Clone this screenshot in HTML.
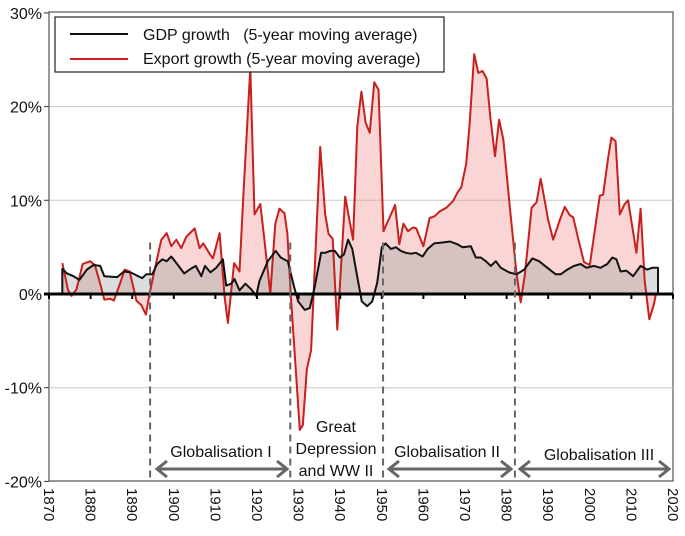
<!DOCTYPE html>
<html><head><meta charset="utf-8"><style>
body{margin:0;background:#fff}
svg text{font-family:"Liberation Sans",Arial,sans-serif;fill:#111}
</style></head><body>
<svg id="c" width="685" height="531"></svg>
<script>
const expYears=[1873.2,1874.6,1875.4,1876.6,1878.1,1879.9,1881,1882.3,1883.3,1884.7,1885.6,1886.9,1888.2,1889.4,1891,1892.2,1893.3,1894.2,1895.4,1897,1898.3,1899.4,1900.6,1901.8,1903,1905,1906.2,1907.1,1908.6,1909.4,1911,1912.2,1913,1914.5,1915.8,1916.7,1918.4,1919.4,1920.8,1921.8,1923.2,1924.4,1925.4,1926.6,1927.3,1928.1,1930.3,1931,1932,1933,1935.2,1936.4,1937.2,1938.2,1939.3,1941.2,1942.2,1943.1,1944.1,1945.1,1946.1,1947.1,1948.2,1949.2,1950.4,1953.2,1954.2,1955.2,1956.3,1957.5,1958.3,1960,1961.5,1962.7,1963.9,1965.5,1967.1,1968.3,1969.1,1970.3,1971.1,1972.2,1973.2,1974.2,1975.2,1976.1,1977.2,1978.2,1979.2,1980.8,1982.4,1983.4,1984.4,1986,1987.2,1988.2,1990,1991.2,1992.8,1994,1995.2,1996,1997.2,1998.6,2000,2002.4,2003.2,2004.4,2005.2,2006.2,2007.2,2008.4,2009.2,2011.2,2012.2,2013.2,2014.3,2015.4,2015.9];
const expVals=[3.3,0.4,-0.2,0.5,3.2,3.5,3.1,1.1,-0.6,-0.5,-0.7,0.9,2.6,2.4,-0.7,-1.2,-2.2,0.1,2.6,5.8,6.5,5.1,5.8,4.9,6.1,7.0,4.9,5.4,4.3,3.8,6.5,-0.3,-3.1,3.3,2.4,10.4,24.1,8.5,9.6,5.7,0.0,7.5,9.1,8.6,6.4,0,-14.5,-14,-8,-6,15.7,8.5,6.4,5.9,-3.8,10.4,7.9,5.8,17.9,21.6,18.3,17.2,22.6,21.8,6.7,9.5,5.3,7.5,6.7,7.1,7.0,5.1,8.1,8.3,8.8,9.2,9.9,10.9,11.4,13.9,18.1,25.6,23.6,23.8,23.0,18.8,14.7,18.6,16.5,9.2,2.1,-0.9,2.1,9.2,9.8,12.3,7.9,5.8,7.9,9.3,8.4,8.2,5.9,3.4,3.1,10.5,10.6,14.5,16.7,16.3,8.5,9.6,10.0,4.4,9.1,1.4,-2.7,-1.1,0];
const gdpYears=[1873.2,1874.3,1875.9,1877.3,1879.1,1880.7,1882.3,1883.3,1886.4,1888,1889.6,1892.4,1893.4,1894.8,1896,1897.2,1898.3,1899.4,1900.8,1902.5,1904.1,1905.3,1906.6,1907.5,1908.8,1910.2,1911.8,1912.6,1913.8,1914.6,1915.8,1917.2,1918.6,1919.8,1920.6,1922.6,1924.5,1925.7,1927.4,1928.9,1929.9,1931.5,1932.7,1933.9,1935.4,1936.4,1937.6,1938.7,1939.9,1940.9,1941.9,1942.9,1944.1,1945.2,1946.5,1947.7,1948.9,1950,1950.9,1952.2,1953.4,1954.6,1955.8,1957,1958.2,1959.8,1961,1962.6,1964.6,1966.4,1968.2,1969.4,1971.4,1972.6,1973.8,1975,1976.2,1977.4,1978.6,1980.6,1982.4,1984.2,1986.2,1987.8,1989.8,1991.8,1993,1994.6,1996.2,1997.8,1999.2,2001,2002.6,2004.2,2005.4,2006.4,2007.4,2008.8,2010.4,2012.2,2013.8,2015,2016.4];
const gdpVals=[2.7,2.2,1.9,1.5,2.6,3.1,3.0,1.9,1.8,2.4,2.3,1.7,2.1,2.1,3.2,3.7,3.5,4.0,3.2,2.2,2.7,3.0,1.9,3.0,2.3,2.8,3.7,0.9,1.1,1.6,0.4,1.1,0.5,-0.2,1.4,3.5,4.6,3.9,3.5,0.8,-0.8,-1.7,-1.5,0.8,4.4,4.4,4.6,4.6,3.9,4.2,5.8,4.8,1.8,-0.8,-1.3,-0.8,1.2,5.0,5.4,4.8,5.0,4.6,4.4,4.3,4.4,4.0,4.8,5.4,5.5,5.6,5.3,5.0,5.1,3.9,3.9,3.5,3.0,3.5,2.8,2.3,2.1,2.6,3.8,3.5,2.8,2.1,2.1,2.6,3.0,3.2,2.8,3.0,2.8,3.2,3.9,3.7,2.4,2.5,1.9,3.0,2.6,2.8,2.8];
const yTicks=[30,20,10,0,-10,-20];
const xTicks=[1870,1880,1890,1900,1910,1920,1930,1940,1950,1960,1970,1980,1990,2000,2010,2020];
const eraLines=[1894.3,1928,1950.3,1982];

const NS='http://www.w3.org/2000/svg',svg=document.getElementById('c');
const X=yr=>49+(yr-1870)*(624/150);
const Y=v=>294-v*9.37;
function el(t,a,p){const e=document.createElementNS(NS,t);for(const k in a)e.setAttribute(k,a[k]);(p||svg).appendChild(e);return e;}
// plot frame & grid
let f=el('rect',{x:49,y:12,width:624,height:469,fill:'none',stroke:'#555','stroke-width':1.2});

yTicks.forEach(v=>{
  if(v!==0&&v!==30&&v!==-20){const g=el('line',{x1:49,x2:673,y1:Y(v),y2:Y(v),stroke:'#c8c8c8','stroke-width':1});
  }
  const tk=el('line',{x1:44,x2:49,y1:Y(v),y2:Y(v),stroke:'#333'});
  
  const t=el('text',{x:42,y:Y(v)+6,'text-anchor':'end','font-size':16});t.textContent=v+'%';
  
});
function area(ys,vs,y0){let d='M'+X(ys[0])+','+Y(0);ys.forEach((y,i)=>d+='L'+X(y).toFixed(1)+','+Y(vs[i]).toFixed(1));return d+'L'+X(ys[ys.length-1])+','+Y(0)+'Z';}
function line(ys,vs){let d='';ys.forEach((y,i)=>d+=(i?'L':'M')+X(y).toFixed(1)+','+Y(vs[i]).toFixed(1));return d;}
const ea=el('path',{d:area(expYears,expVals),fill:'rgba(242,150,150,0.4)'});

const ga=el('path',{d:area(gdpYears,gdpVals),fill:'rgba(150,160,160,0.35)'});

const el1=el('path',{d:line(expYears,expVals),fill:'none',stroke:'#c8201c','stroke-width':2,'stroke-linejoin':'round'});

const gl=el('path',{d:'M'+X(gdpYears[0])+','+Y(0)+line(gdpYears,gdpVals).replace('M','L')+'L'+X(gdpYears[gdpYears.length-1])+','+Y(0),fill:'none',stroke:'#111','stroke-width':2,'stroke-linejoin':'round'});

// zero axis
const za=el('line',{x1:44,x2:673,y1:Y(0),y2:Y(0),stroke:'#000','stroke-width':3});

xTicks.forEach(yr=>{
  const tk=el('line',{x1:X(yr),x2:X(yr),y1:Y(0),y2:Y(0)+5,stroke:'#000','stroke-width':2});
  
  const t=el('text',{x:0,y:0,'font-size':15,transform:`translate(${X(yr)-5},488) rotate(90)`});t.textContent=yr;
  
});
eraLines.forEach(yr=>{
  const l=el('line',{x1:X(yr),x2:X(yr),y1:Y(5.5),y2:481,stroke:'#666','stroke-width':2,'stroke-dasharray':'7,5'});
  
});
</script>
<svg width="685" height="531" style="position:absolute;left:0;top:0">
 <g stroke="#666" stroke-width="3" fill="none">
  <path d="M157,469H287M167,461L157,469L167,477M277,461L287,469L277,477"/>
  <path d="M389,469H511M399,461L389,469L399,477M501,461L511,469L501,477"/>
  <path d="M520,469H669M530,461L520,469L530,477M659,461L669,469L659,477"/>
 </g>
 <g font-size="16" text-anchor="middle">
  <text x="221" y="457">Globalisation I</text>
  <text x="336" y="432">Great</text>
  <text x="336" y="454">Depression</text>
  <text x="336" y="476">and WW II</text>
  <text x="447" y="457">Globalisation II</text>
  <text x="599" y="460">Globalisation III</text>
 </g>
 <g>
  <rect x="55" y="17" width="389" height="55" fill="#fff" stroke="#222" stroke-width="1.2"/>
  <line x1="70" x2="128" y1="34" y2="34" stroke="#111" stroke-width="2"/>
  <line x1="70" x2="128" y1="59" y2="59" stroke="#c8201c" stroke-width="2"/>
  <text x="143" y="40" font-size="16">GDP growth &#160;&#160;(5-year moving average)</text>
  <text x="143" y="64" font-size="16">Export growth (5-year moving average)</text>
 </g>
</svg>
</body></html>
